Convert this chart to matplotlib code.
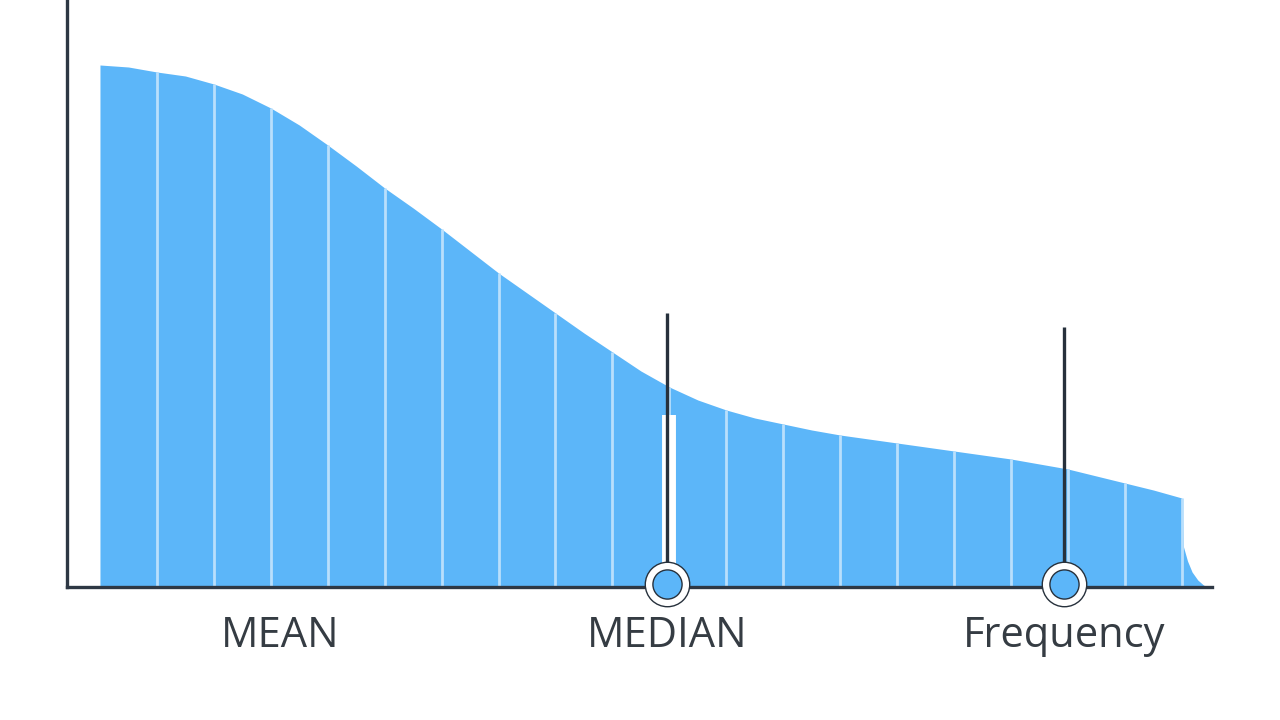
import matplotlib.pyplot as plt

# curve: x in bin units, height in pixels above the baseline
curve_x = [0, 0.5, 1, 1.5, 2, 2.5, 3, 3.5, 4, 4.5, 5, 5.5, 6, 6.5, 7, 7.5, 8, 8.5, 9, 9.5,
           10, 10.5, 11, 11.5, 12, 12.5, 13, 13.5, 14, 14.5, 15, 15.5, 16, 16.5, 17, 17.5,
           18, 18.5, 19, 19.03, 19.1, 19.18, 19.28, 19.38, 19.45]
curve_y = [522, 520, 515, 511, 503, 493, 479, 462, 442, 421, 399, 379, 358, 336, 314, 294,
           274, 254, 235, 216, 200, 187, 177, 169, 163, 157, 152, 148, 144, 140, 136, 132,
           128, 123, 118, 111, 104, 97, 89, 40, 26, 15, 7, 2, 0]

stripe_x = list(range(1, 20))
stripe_h = [515, 503, 479, 442, 399, 358, 314, 274, 235, 200, 177, 163, 152, 144, 136,
            128, 118, 104, 89]

markers_x = [9.95, 16.93]
markers_top = [274, 260]
label_x = [3.16, 9.96, 16.94]
labels = ['MEAN', 'MEDIAN', 'Frequency']

blue = '#5cb6f9'
dark = '#27313c'

fig = plt.figure(figsize=(12.8, 7.2), dpi=100)
ax = fig.add_axes([67 / 1280, 133 / 720, (1212 - 67) / 1280, 587 / 720])

ax.fill_between(curve_x, 0, curve_y, color=blue, linewidth=0, zorder=1)
ax.vlines(stripe_x, 0, stripe_h, color='#b9dffc', linewidth=2.0, zorder=2)

# white band behind the median line
ax.vlines(markers_x[0] + 0.04, 0, 172, color='white', linewidth=10, zorder=3)

ax.vlines(markers_x, 0, markers_top, color=dark, linewidth=2.4, zorder=4)
ax.plot(markers_x, [3, 3], 'o', ms=32, mfc='white', mec=dark, mew=1.0,
        clip_on=False, zorder=5)
ax.plot(markers_x, [3, 3], 'o', ms=21, mfc=blue, mec=dark, mew=1.0,
        clip_on=False, zorder=6)

for x, t in zip(label_x, labels):
    ax.text(x, -49, t, ha='center', va='center', fontsize=30, color='#353c43',
            family='Open Sans', clip_on=False)

ax.set_xlim(-0.579, 19.53)
ax.set_ylim(0, 587)
for s in ['top', 'right']:
    ax.spines[s].set_visible(False)
for s in ['left', 'bottom']:
    ax.spines[s].set_color('#2e3844')
    ax.spines[s].set_linewidth(2.4)
ax.set_xticks([])
ax.set_yticks([])

fig.savefig('out.png', dpi=100)
